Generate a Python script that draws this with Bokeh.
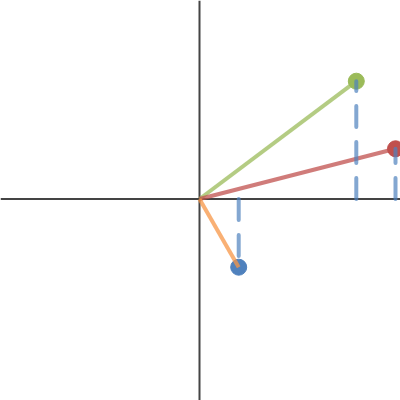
from bokeh.embed import file_html
from bokeh.models import Range1d, Span
from bokeh.plotting import figure
from bokeh.resources import INLINE

# vectors (tip coordinates)
names = ["a", "b", "c"]
xs = [7.84, 9.8, 1.96]
ys = [5.89, 2.51, -3.41]
dot_colors = ["#9bbb59", "#c0504d", "#4f81bd"]
line_colors = ["#9bbb59", "#c0504d", "#f79646"]

p = figure(width=400, height=400, output_backend="svg", toolbar_location=None,
           x_range=Range1d(-9.95, 10.05), y_range=Range1d(-10.075, 9.925),
           min_border=0)
p.axis.visible = False
p.grid.visible = False
p.outline_line_color = None
p.background_fill_color = "white"

# coordinate axes through the origin
p.add_layout(Span(location=0, dimension="height", line_color="#444444",
                  line_width=2, level="underlay"))
p.add_layout(Span(location=0, dimension="width", line_color="#444444",
                  line_width=2, level="underlay"))

p.scatter(xs, ys, size=16, color=dot_colors)
p.segment(x0=[0] * len(xs), y0=[0] * len(xs), x1=xs, y1=ys,
          line_color=line_colors, line_width=4, line_alpha=0.75)
p.segment(x0=xs, y0=[0] * len(xs), x1=xs, y1=ys,
          line_color="#4f81bd", line_width=4, line_alpha=0.7,
          line_dash="21 15", line_cap="round")

open("out.html", "w").write(file_html(p, INLINE))
